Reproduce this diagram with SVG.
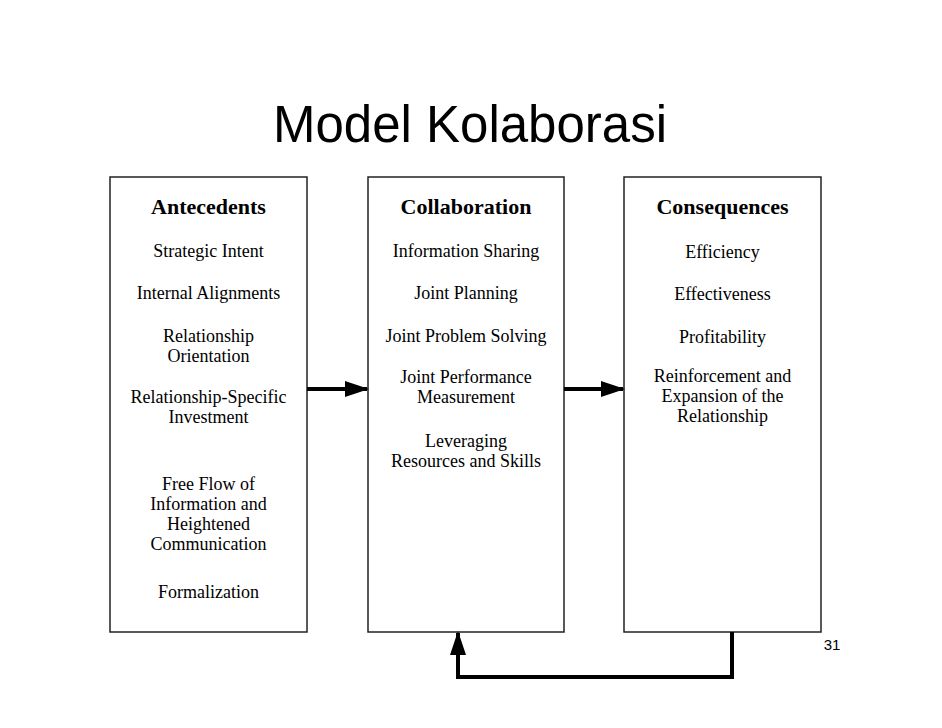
<svg xmlns="http://www.w3.org/2000/svg" width="942" height="728" viewBox="0 0 942 728">
<style>
.box{fill:#fff;stroke:#222;stroke-width:1.5}
.t{font-family:"Liberation Serif","Times New Roman",serif;font-size:18px;fill:#000;text-anchor:middle}
.h{font-family:"Liberation Serif","Times New Roman",serif;font-size:22px;font-weight:bold;fill:#000;text-anchor:middle}
.conn{fill:none;stroke:#000;stroke-width:4}
</style>
<defs>
<marker id="ah" markerWidth="6" markerHeight="4" refX="5.5" refY="2" orient="auto" markerUnits="strokeWidth">
<path d="M0,0 L6,2 L0,4 Z" fill="#000"/>
</marker>
</defs>
<rect width="942" height="728" fill="#fff"/>
<text id="title" x="470" y="142" font-family="Liberation Sans, Arial, sans-serif" font-size="51" text-anchor="middle" fill="#000">Model Kolaborasi</text>

<g id="antecedents">
<rect class="box" x="110" y="177" width="197" height="455"/>
<text class="h" x="208.5" y="214">Antecedents</text>
<text class="t" x="208.5" y="257">Strategic Intent</text>
<text class="t" x="208.5" y="299">Internal Alignments</text>
<text class="t" x="208.5" y="342">Relationship</text>
<text class="t" x="208.5" y="362">Orientation</text>
<text class="t" x="208.5" y="403">Relationship-Specific</text>
<text class="t" x="208.5" y="423">Investment</text>
<text class="t" x="208.5" y="490">Free Flow of</text>
<text class="t" x="208.5" y="510">Information and</text>
<text class="t" x="208.5" y="530">Heightened</text>
<text class="t" x="208.5" y="550">Communication</text>
<text class="t" x="208.5" y="598">Formalization</text>
</g>

<g id="collaboration">
<rect class="box" x="368" y="177" width="196" height="455"/>
<text class="h" x="466" y="214">Collaboration</text>
<text class="t" x="466" y="257">Information Sharing</text>
<text class="t" x="466" y="299">Joint Planning</text>
<text class="t" x="466" y="342">Joint Problem Solving</text>
<text class="t" x="466" y="383">Joint Performance</text>
<text class="t" x="466" y="403">Measurement</text>
<text class="t" x="466" y="447">Leveraging</text>
<text class="t" x="466" y="467">Resources and Skills</text>
</g>

<g id="consequences">
<rect class="box" x="624" y="177" width="197" height="455"/>
<text class="h" x="722.5" y="214">Consequences</text>
<text class="t" x="722.5" y="258">Efficiency</text>
<text class="t" x="722.5" y="300">Effectiveness</text>
<text class="t" x="722.5" y="343">Profitability</text>
<text class="t" x="722.5" y="382">Reinforcement and</text>
<text class="t" x="722.5" y="402">Expansion of the</text>
<text class="t" x="722.5" y="422">Relationship</text>
</g>

<g id="connectors">
<path class="conn" d="M307,389 L367,389" marker-end="url(#ah)"/>
<path class="conn" d="M564,389 L623,389" marker-end="url(#ah)"/>
<path class="conn" d="M732,632 L732,677 L458,677 L458,633" marker-end="url(#ah)"/>
</g>

<text id="pagenum" x="832" y="650" font-family="Liberation Sans, Arial, sans-serif" font-size="15" text-anchor="middle" fill="#000">31</text>
</svg>
